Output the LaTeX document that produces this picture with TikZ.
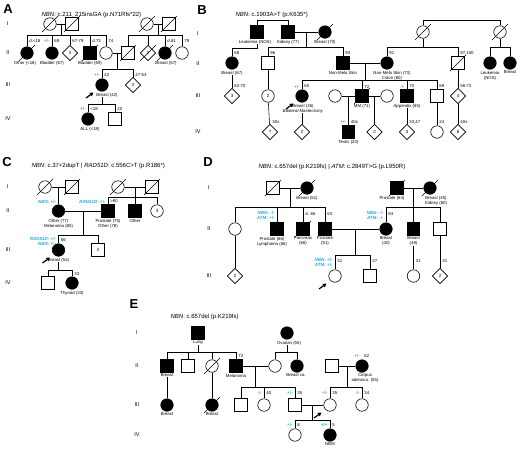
\documentclass[tikz,border=0pt]{standalone}
\usepackage{fontspec}
\setmainfont{Liberation Sans}
\usetikzlibrary{calc,shapes.geometric,arrows.meta}
\definecolor{gblue}{RGB}{40,170,225}
\tikzset{
  ind/.style={draw, line width=0.6pt, minimum size=12.5pt, inner sep=0pt, font=\fontsize{4.5}{5}\selectfont},
  sq/.style={ind, rectangle},
  ci/.style={ind, circle},
  di/.style={ind, diamond, minimum size=15.5pt},
  aff/.style={fill=black},
  lbl/.style={font=\fontsize{4.3}{5}\selectfont, align=center, inner sep=0.2pt},
  blab/.style={lbl, anchor=north},
  agel/.style={lbl, anchor=west},
  gtl/.style={lbl, anchor=east, align=right, text=gblue, font=\fontsize{4.5}{5}\selectfont\bfseries},
  ttl/.style={font=\fontsize{6}{7}\selectfont, anchor=west},
  pl/.style={font=\fontsize{13}{14}\selectfont\bfseries},
  gen/.style={font=\fontsize{5.5}{6}\selectfont},
}
\newcommand\pdead[1]{\draw[line width=0.6pt] ([shift={(-8pt,-8pt)}]#1.center) -- ([shift={(8pt,8pt)}]#1.center);}
\newcommand\pprob[1]{\draw[line width=1.2pt,-{Triangle[length=3.6pt,width=4pt]}] ([shift={(-16pt,-13pt)}]#1.center) -- ([shift={(-8.5pt,-7.5pt)}]#1.center);}
\begin{document}
\begin{tikzpicture}[x=1pt,y=-1pt,line width=0.55pt]
\useasboundingbox (0,0) rectangle (520,451);
%%%%%%%%%%%%%%%% PANEL A
\node[pl] (pA) at (8,9) {A};
\node[ttl] (tA) at (38,15) {\textit{NBN}: c.211\_215insGA (p.N71Rfs*22)};
\node[gen] (gA1) at (8,24) {I};
\node[gen] (gA2) at (8,53) {II};
\node[gen] (gA3) at (8,85) {III};
\node[gen] (gA4) at (8,119) {IV};
\node[ci] (a1) at (50,24) {};
\node[sq] (a2) at (72,24) {};
\node[ci] (a3) at (147,24) {};
\node[sq] (a4) at (169,24) {};
\draw (a1) -- (a2); \draw (a3) -- (a4);
\coordinate (Am1) at ($(a1)!0.5!(a2)$);
\coordinate (Am2) at ($(a3)!0.5!(a4)$);
\coordinate (As1) at (61,35);
\coordinate (As2) at (158,35);
\node[ci,aff] (a5) at (27,53) {};
\node[ci,aff] (a6) at (52,53) {};
\node[di] (a7) at (70,53) {3};
\node[sq,aff] (a8) at (90,53) {};
\node[ci] (a9) at (106,53) {};
\node[sq] (a10) at (128,53) {};
\node[di] (a11) at (148,53) {2};
\node[ci,aff] (a12) at (165,53) {};
\node[ci] (a13) at (182,53) {};
\draw (Am1) -- (Am1 |- As1); \draw (As1 -| a5) -- (As1 -| a9);
\foreach \c in {a5,a6,a7,a8,a9} {\draw (\c) -- (\c |- As1);}
\draw (Am2) -- (Am2 |- As2); \draw (As2 -| a10) -- (As2 -| a13);
\foreach \c in {a10,a11,a12,a13} {\draw (\c) -- (\c |- As2);}
\foreach \c in {a1,a2,a3,a4,a5,a8,a10,a11,a12} {\pdead{\c}}
\node[agel] (a5t) at (29,41) {d.<18};
\node[gtl] (a6g) at (50,41) {+/-};
\node[agel] (a6t) at (54,41) {69};
\node[agel] (a7t) at (72,41) {67-79};
\node[agel] (a8t) at (92,41) {d.73};
\node[agel] (a9t) at (108,41) {74};
\node[agel] (a12t) at (167,41) {d.61};
\node[agel] (a13t) at (184,41) {79};
\node[blab] (a5b) at (25,60.5) {Other (<18)};
\node[blab] (a6b) at (52,60.5) {Bladder (67)};
\node[blab] (a8b) at (90,60.5) {Bladder (69)};
\node[blab] (a12b) at (166,60.5) {Breast (57)};
\draw (a9) -- (a10);
\coordinate (Am3) at ($(a9)!0.5!(a10)$);
\coordinate (As3) at (117,69);
\node[ci,aff] (a14) at (102,85) {};
\node[di] (a15) at (133,85) {3};
\draw (Am3) -- (Am3 |- As3); \draw (As3 -| a14) -- (As3 -| a15);
\foreach \c in {a14,a15} {\draw (\c) -- (\c |- As3);}
\node[gtl] (a14g) at (100,75) {+/-};
\node[agel] (a14t) at (104,75) {42};
\node[agel] (a15t) at (135,75) {47-53};
\node[blab] (a14b) at (107,92.5) {Breast (42)};
\pprob{a14}
\coordinate (As4) at (102,104);
\node[ci,aff] (a16) at (88,119) {};
\node[sq] (a17) at (115,119) {};
\draw (a14b.south -| a14) -- (As4); \draw (As4 -| a16) -- (As4 -| a17);
\foreach \c in {a16,a17} {\draw (\c) -- (\c |- As4);}
\node[gtl] (a16g) at (86,109) {+/-};
\node[agel] (a16t) at (90,109) {<18};
\node[agel] (a17t) at (117,109) {20};
\node[blab] (a16b) at (90,126.5) {ALL (<18)};
%%%%%%%%%%%%%%%% PANEL B
\node[pl] (pB) at (202,10) {B};
\node[ttl] (tB) at (232,15) {\textit{NBN}: c.1903A>T (p.K635*)};
\node[gen] (gB1) at (198,34) {I};
\node[gen] (gB2) at (198,64) {II};
\node[gen] (gB3) at (198,96) {III};
\node[gen] (gB4) at (198,132) {IV};
\node[sq,aff] (b1) at (257,32) {};
\node[sq,aff] (b2) at (288,32) {};
\node[ci,aff] (b3) at (325,32) {};
\node[ci] (b4) at (423,32) {};
\node[ci] (b5) at (500,32) {};
\coordinate (Bt1) at (272,20);
\coordinate (Bt2) at (460,20);
\draw (b1) -- (b1 |- Bt1) -- (b2 |- Bt1) -- (b2);
\draw (b4) -- (b4 |- Bt2) -- (b5 |- Bt2) -- (b5);
\node[blab] (b1b) at (255,39.5) {Leukemia (NOS)};
\node[blab] (b2b) at (288,39.5) {Kidney (77)};
\node[blab] (b3b) at (325,39.5) {Breast (70)};
\draw (b2) -- (b3);
\coordinate (Bm1) at ($(b2)!0.5!(b3)$);
\coordinate (Bs1) at (306,47);
\coordinate (Bs0) at (245,48);
\coordinate (Bs2) at (423,47);
\coordinate (Bs3) at (500,47);
\node[ci,aff] (b6) at (232,63) {};
\node[sq] (b7) at (268,63) {};
\node[sq,aff] (b8) at (343,63) {};
\node[ci,aff] (b9) at (387,63) {};
\node[sq] (b10) at (458,63) {};
\node[ci,aff] (b11) at (490,63) {};
\node[ci,aff] (b12) at (510,63) {};
\draw (Bm1) -- (Bm1 |- Bs1); \draw (Bs1 -| b7) -- (Bs1 -| b8);
\foreach \c in {b7,b8} {\draw (\c) -- (\c |- Bs1);}
\draw (b1b.south -| b1) -- (b1 |- Bs0) -- (b6 |- Bs0) -- (b6);
\draw (b4) -- (Bs2); \draw (Bs2 -| b9) -- (Bs2 -| b10);
\foreach \c in {b9,b10} {\draw (\c) -- (\c |- Bs2);}
\draw (b5) -- (Bs3); \draw (Bs3 -| b11) -- (Bs3 -| b12);
\foreach \c in {b11,b12} {\draw (\c) -- (\c |- Bs3);}
\node[agel] (b6t) at (234,53.5) {68};
\node[agel] (b7t) at (270,53.5) {96};
\node[agel] (b8t) at (345,53.5) {93};
\node[agel] (b9t) at (389,53.5) {91};
\node[agel] (b10t) at (460,53.5) {97,100};
\node[blab] (b6b) at (232,70.5) {Breast (67)};
\node[blab] (b8b) at (343,70.5) {Non-Mela Skin};
\node[blab] (b9b) at (392,70.5) {Non-Mela Skin (73)\\Colon (60)};
\node[blab] (b11b) at (490,70.5) {Leukemia\\(NOS)};
\node[blab] (b12b) at (510,70.5) {Breast};
\draw (b8) -- (b9);
\coordinate (Bm2) at ($(b8)!0.5!(b9)$);
\coordinate (Bs4) at (365,80);
\node[di] (b14) at (232,96) {3};
\node[ci] (b13) at (268,96) {2};
\node[ci,aff] (b15) at (302,96) {};
\node[ci] (b16) at (335,96) {};
\node[sq,aff] (b17) at (362,96) {};
\node[ci] (b18) at (387,96) {};
\node[sq,aff] (b19) at (407,96) {};
\node[sq] (b20) at (437,96) {};
\node[di] (b21) at (458,96) {4};
\draw (Bm2) -- (Bm2 |- Bs4); \draw (Bs4 -| b15) -- (Bs4 -| b20);
\foreach \c in {b15,b17,b19,b20} {\draw (\c) -- (\c |- Bs4);}
\draw (b7) -- (b13); \draw (b6b.south -| b6) -- (b14); \draw (b10) -- (b21);
\draw (b16) -- (b17); \draw (b17) -- (b18);
\node[agel] (b14t) at (234,86) {62-70};
\node[gtl] (b15g) at (300,86.5) {+/-};
\node[agel] (b15t) at (304,86.5) {60};
\node[agel] (b17t) at (364,86.5) {72};
\node[gtl] (b19g) at (405,86.5) {-/-};
\node[agel] (b19t) at (409,86.5) {70};
\node[agel] (b20t) at (439,86.5) {69};
\node[agel] (b21t) at (460,86.5) {56-72};
\node[blab] (b15b) at (303,103.5) {Breast (35)\\\textit{Bilateral Mastectomy}};
\node[blab] (b17b) at (362,103.5) {MM (71)};
\node[blab] (b19b) at (407,103.5) {Appendix (65)};
\pprob{b15}
\coordinate (Bm3) at ($(b16)!0.5!(b17)$);
\coordinate (Bm4) at ($(b17)!0.5!(b18)$);
\node[di] (b22) at (270,132) {?};
\node[di] (b23) at (302,132) {2};
\node[sq,aff] (b24) at (348.5,132) {};
\node[di] (b25) at (374.5,132) {2};
\node[di] (b26) at (407,132) {3};
\node[ci] (b27) at (437,132) {};
\node[di] (b28) at (458,132) {6};
\draw (b13) -- (b22); \draw (b15b.south -| b15) -- (b23);
\draw (Bm3) -- (b24); \draw (Bm4) -- (b25);
\draw (b19b.south -| b19) -- (b26); \draw (b20) -- (b27); \draw (b21) -- (b28);
\foreach \c in {b3,b4,b5,b10,b17} {\pdead{\c}}
\node[agel] (b22t) at (272,122) {30s};
\node[gtl] (b24g) at (346.5,122) {+/-};
\node[agel] (b24t) at (350.5,122) {40s};
\node[agel] (b26t) at (409,122) {33,47};
\node[agel] (b27t) at (439,122) {24};
\node[agel] (b28t) at (460,122) {40s};
\node[blab] (b24b) at (348.5,139.5) {Testis (20)};
%%%%%%%%%%%%%%%% PANEL C
\node[pl] (pC) at (7,162) {C};
\node[ttl] (tC) at (28,166) {\textit{NBN}: c.37+2dupT | \textit{RAD51D}: c.556C>T (p.R186*)};
\node[gen] (gC1) at (8,187) {I};
\node[gen] (gC2) at (8,211) {II};
\node[gen] (gC3) at (8,250) {III};
\node[gen] (gC4) at (8,283) {IV};
\node[ci] (c1) at (45,187) {};
\node[sq] (c2) at (72,187) {};
\node[ci] (c3) at (118,187) {};
\node[sq] (c4) at (152,187) {};
\draw (c1) -- (c2); \draw (c3) -- (c4);
\foreach \c in {c1,c2,c3,c4} {\pdead{\c}}
\coordinate (Cm1) at ($(c1)!0.5!(c2)$);
\coordinate (Cm2) at ($(c3)!0.5!(c4)$);
\coordinate (Cs1) at (135,197);
\node[ci,aff] (c5) at (58.5,211) {};
\node[sq,aff] (c6) at (108,211) {};
\node[sq,aff] (c7) at (135,211) {};
\node[ci] (c8) at (157,211) {3};
\draw (Cm1) -- (c5);
\draw (Cm2) -- (Cm2 |- Cs1); \draw (Cs1 -| c6) -- (Cs1 -| c8);
\foreach \c in {c6,c7,c8} {\draw (\c) -- (\c |- Cs1);}
\node[gtl] (c5g) at (56.5,201.5) {\textit{NBN}: +/-};
\node[gtl] (c6g) at (106,201.5) {\textit{RAD51D}: +/-};
\node[agel] (c6t) at (110,201.5) {>80};
\node[blab] (c5b) at (58.5,218.5) {Other (77)\\Melanoma (80)};
\node[blab] (c6b) at (108,218.5) {Prostate (75)\\Other (78)};
\node[blab] (c7b) at (135,218.5) {Other};
\draw (c5) -- (c6);
\coordinate (Cm3) at ($(c5)!0.5!(c6)$);
\coordinate (Cs2) at (83,235);
\node[ci,aff] (c9) at (58.5,250) {};
\node[sq] (c10) at (98,250) {3};
\draw (Cm3) -- (Cm3 |- Cs2); \draw (Cs2 -| c9) -- (Cs2 -| c10);
\foreach \c in {c9,c10} {\draw (\c) -- (\c |- Cs2);}
\node[gtl] (c9g) at (56.5,241.5) {\textit{RAD51D}: +/-\\\textit{NBN}: +/-};
\node[agel] (c9t) at (60.5,240) {56};
\node[blab] (c9b) at (58.5,257.5) {Breast (54)};
\pprob{c9}
\coordinate (Cs3) at (58.5,270);
\node[sq] (c11) at (48,283) {};
\node[ci,aff] (c12) at (72,283) {};
\draw (c9b.south -| c9) -- (Cs3); \draw (Cs3 -| c11) -- (Cs3 -| c12);
\foreach \c in {c11,c12} {\draw (\c) -- (\c |- Cs3);}
\node[agel] (c12t) at (74,274) {33};
\node[blab] (c12b) at (72,290.5) {Thyroid (33)};
%%%%%%%%%%%%%%%% PANEL D
\node[pl] (pD) at (208,162) {D};
\node[ttl] (tD) at (255,167) {\textit{NBN}: c.657del (p.K219fs) | \textit{ATM}: c.2849T>G (p.L950R)};
\node[gen] (gD1) at (209,188) {I};
\node[gen] (gD2) at (209,229) {II};
\node[gen] (gD3) at (209,276) {III};
\node[sq] (d1) at (273,188) {};
\node[ci,aff] (d2) at (307,188) {};
\node[sq,aff] (d3) at (397,188) {};
\node[ci,aff] (d4) at (430,188) {};
\draw (d1) -- (d2); \draw (d3) -- (d4);
\foreach \c in {d1,d2,d3,d4} {\pdead{\c}}
\node[blab] (d2b) at (307,195.5) {Breast (51)};
\node[blab] (d3b) at (392,195.5) {Prostate (64)};
\node[blab] (d4b) at (436,195.5) {Breast (45)\\Kidney (60)};
\coordinate (Dm1) at ($(d1)!0.5!(d2)$);
\coordinate (Dm2) at ($(d3)!0.5!(d4)$);
\coordinate (Ds1) at (290,207);
\coordinate (Ds2) at (413.5,207);
\node[ci] (d5) at (235,229) {};
\node[sq,aff] (d6) at (277,229) {};
\node[sq,aff] (d7) at (303,229) {};
\node[sq,aff] (d8) at (325,229) {};
\node[ci,aff] (d9) at (386,229) {};
\node[sq,aff] (d10) at (413.5,229) {};
\node[sq] (d11) at (440,229) {};
\pdead{d7}
\draw (Dm1) -- (Dm1 |- Ds1); \draw (Ds1 -| d5) -- (Ds1 -| d8);
\foreach \c in {d5,d6,d7,d8} {\draw (\c) -- (\c |- Ds1);}
\draw (Dm2) -- (Dm2 |- Ds2); \draw (Ds2 -| d9) -- (Ds2 -| d11);
\foreach \c in {d9,d10,d11} {\draw (\c) -- (\c |- Ds2);}
\node[gtl] (d6g) at (275,215.5) {\textit{NBN}: -/-\\\textit{ATM}: +/-};
\node[agel] (d7t) at (305,214) {d. 66};
\node[agel] (d8t) at (327,214) {63};
\node[gtl] (d9g) at (384,215.5) {\textit{NBN}: -/-\\\textit{ATM}: -/-};
\node[agel] (d9t) at (388,214) {63};
\node[blab] (d6b) at (272,236.5) {Prostate (66)\\Lymphoma (66)};
\node[blab] (d7b) at (303,236.5) {Pancreas\\(66)};
\node[blab] (d8b) at (325,236.5) {Prostate\\(51)};
\node[blab] (d9b) at (386,236.5) {Breast\\(40)};
\node[blab] (d10b) at (413.5,236.5) {Breast\\(49)};
\draw (d8) -- (d9);
\coordinate (Dm3) at ($(d8)!0.5!(d9)$);
\coordinate (Ds3) at (355.5,255);
\node[di] (d12) at (235,276) {2};
\node[ci] (d13) at (335,276) {};
\node[sq] (d14) at (370,276) {};
\node[ci] (d15) at (413.5,276) {};
\node[di] (d16) at (440,276) {2};
\draw (Dm3) -- (Dm3 |- Ds3); \draw (Ds3 -| d13) -- (Ds3 -| d14);
\foreach \c in {d13,d14} {\draw (\c) -- (\c |- Ds3);}
\draw (d5) -- (d12); \draw (d10b.south -| d10) -- (d15); \draw (d11) -- (d16);
\node[gtl] (d13g) at (333,262.5) {\textit{NBN}: +/-\\\textit{ATM}: +/-};
\node[agel] (d13t) at (337,261) {31};
\node[agel] (d14t) at (372,261) {27};
\node[agel] (d15t) at (415.5,261) {31};
\node[agel] (d16t) at (442,261) {31};
\pprob{d13}
%%%%%%%%%%%%%%%% PANEL E
\node[pl] (pE) at (134,304) {E};
\node[ttl] (tE) at (167,317) {\textit{NBN}: c.657del (p.K219fs)};
\node[gen] (gE1) at (137,333) {I};
\node[gen] (gE2) at (137,366) {II};
\node[gen] (gE3) at (137,405) {III};
\node[gen] (gE4) at (137,435) {IV};
\node[sq,aff] (e1) at (198,333) {};
\node[ci,aff] (e2) at (287,333) {};
\node[blab] (e1b) at (198,340.5) {Lung};
\node[blab] (e2b) at (289,340.5) {Ovarian (55)};
\coordinate (Es1) at (198,352);
\coordinate (Es2) at (287,352);
\node[sq,aff] (e3) at (167,366) {};
\node[sq] (e4) at (188,366) {};
\node[ci] (e5) at (212,366) {};
\node[sq,aff] (e6) at (236,366) {};
\node[ci] (e7) at (275,366) {};
\node[ci,aff] (e8) at (297,366) {};
\node[sq] (e9) at (332,366) {};
\node[ci,aff] (e10) at (362,366) {};
\pdead{e5}
\draw (e1b.south -| e1) -- (Es1); \draw (Es1 -| e3) -- (Es1 -| e6);
\foreach \c in {e3,e4,e5,e6} {\draw (\c) -- (\c |- Es1);}
\draw (e2b.south -| e2) -- (Es2); \draw (Es2 -| e7) -- (Es2 -| e8);
\foreach \c in {e7,e8} {\draw (\c) -- (\c |- Es2);}
\node[agel] (e6t) at (238,356) {72};
\node[gtl] (e10g) at (360,356) {+/-};
\node[agel] (e10t) at (364,356) {62};
\node[blab] (e3b) at (167,373.5) {Breast};
\node[blab] (e6b) at (236,373.5) {Melanoma};
\node[blab] (e8b) at (296,373.5) {Breast ca.};
\node[blab] (e10b) at (365,373.5) {Corpus\\adenoca. (55)};
\draw (e6) -- (e7); \draw (e9) -- (e10);
\coordinate (Em1) at ($(e6)!0.5!(e7)$);
\coordinate (Em2) at ($(e9)!0.5!(e10)$);
\coordinate (Es3) at (255.5,387);
\coordinate (Es4) at (347,387);
\node[ci,aff] (e11) at (167,405) {};
\node[ci,aff] (e12) at (212,405) {};
\node[sq] (e13) at (241,405) {};
\node[ci] (e14) at (264,405) {};
\node[sq] (e15) at (295,405) {};
\node[ci] (e16) at (330,405) {};
\node[ci] (e17) at (362,405) {};
\pdead{e12}
\draw (e3b.south -| e3) -- (e11); \draw (e5) -- (e12);
\draw (Em1) -- (Em1 |- Es3); \draw (Es3 -| e13) -- (Es3 -| e15);
\foreach \c in {e13,e14,e15} {\draw (\c) -- (\c |- Es3);}
\draw (Em2) -- (Em2 |- Es4); \draw (Es4 -| e16) -- (Es4 -| e17);
\foreach \c in {e16,e17} {\draw (\c) -- (\c |- Es4);}
\node[gtl] (e14g) at (262,393) {-/-};
\node[agel] (e14t) at (266,393) {40};
\node[gtl] (e15g) at (293,393) {+/-};
\node[agel] (e15t) at (297,393) {35};
\node[gtl] (e16g) at (328,393) {+/-};
\node[agel] (e16t) at (332,393) {35};
\node[gtl] (e17g) at (360,393) {-/-};
\node[agel] (e17t) at (364,393) {34};
\node[blab] (e11b) at (167,412.5) {Breast};
\node[blab] (e12b) at (212,412.5) {Breast};
\draw (e15) -- (e16);
\coordinate (Em3) at ($(e15)!0.5!(e16)$);
\coordinate (Es5) at (312.5,420);
\node[ci] (e18) at (295,435) {};
\node[ci,aff] (e19) at (330,435) {};
\draw (Em3) -- (Em3 |- Es5); \draw (Es5 -| e18) -- (Es5 -| e19);
\foreach \c in {e18,e19} {\draw (\c) -- (\c |- Es5);}
\pprob{e16}
\node[gtl] (e18g) at (293,425) {+/-};
\node[agel] (e18t) at (297,425) {8};
\node[gtl] (e19g) at (328,425) {+/+};
\node[agel] (e19t) at (332,425) {5};
\node[blab] (e19b) at (330,442.5) {NBIS};
\end{tikzpicture}
\end{document}
